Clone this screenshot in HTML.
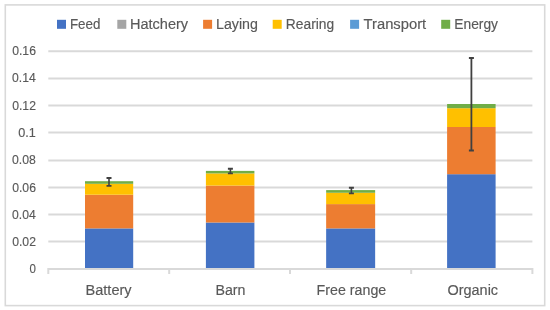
<!DOCTYPE html>
<html>
<head>
<meta charset="utf-8">
<style>
html,body{margin:0;padding:0;background:#fff;}
body{width:550px;height:310px;overflow:hidden;}
svg{display:block;}
text{font-family:"Liberation Sans",Arial,sans-serif;fill:#595959;stroke:#595959;stroke-width:0.15px;}

</style>
</head>
<body>
<svg width="550" height="310" viewBox="0 0 550 310">
<rect x="0" y="0" width="550" height="310" fill="#fff"/>
<rect x="5.3" y="4.9" width="539.4" height="300.7" fill="none" stroke="#d9d9d9" stroke-width="1.6"/>
<g stroke="#d9d9d9" stroke-width="2"><line x1="48.3" y1="241.40" x2="532.4" y2="241.40"/><line x1="48.3" y1="214.40" x2="532.4" y2="214.40"/><line x1="48.3" y1="187.40" x2="532.4" y2="187.40"/><line x1="48.3" y1="160.50" x2="532.4" y2="160.50"/><line x1="48.3" y1="132.40" x2="532.4" y2="132.40"/><line x1="48.3" y1="105.40" x2="532.4" y2="105.40"/><line x1="48.3" y1="78.40" x2="532.4" y2="78.40"/><line x1="48.3" y1="51.30" x2="532.4" y2="51.30"/></g>
<g>
<rect x="85.0" y="228.4" width="48.2" height="40.4" fill="#4472c4"/>
<rect x="85.0" y="194.7" width="48.2" height="33.7" fill="#ed7d31"/>
<rect x="85.0" y="183.8" width="48.2" height="10.9" fill="#ffc000"/>
<rect x="85.0" y="181.2" width="48.2" height="2.6" fill="#70ad47"/>
<rect x="205.9" y="222.5" width="48.5" height="46.3" fill="#4472c4"/>
<rect x="205.9" y="185.55" width="48.5" height="36.95" fill="#ed7d31"/>
<rect x="205.9" y="173.4" width="48.5" height="12.15" fill="#ffc000"/>
<rect x="205.9" y="170.9" width="48.5" height="2.5" fill="#70ad47"/>
<rect x="326.15" y="228.4" width="49.0" height="40.4" fill="#4472c4"/>
<rect x="326.15" y="204.1" width="49.0" height="24.3" fill="#ed7d31"/>
<rect x="326.15" y="192.75" width="49.0" height="11.35" fill="#ffc000"/>
<rect x="326.15" y="190.1" width="49.0" height="2.65" fill="#70ad47"/>
<rect x="447.1" y="174.2" width="48.5" height="94.6" fill="#4472c4"/>
<rect x="447.1" y="127.0" width="48.5" height="47.2" fill="#ed7d31"/>
<rect x="447.1" y="108.2" width="48.5" height="18.8" fill="#ffc000"/>
<rect x="447.1" y="104.0" width="48.5" height="4.2" fill="#70ad47"/>
</g>
<g stroke="#d9d9d9" stroke-width="2">
<line x1="48.3" y1="268.9" x2="532.4" y2="268.9"/>
<line x1="48.3" y1="268" x2="48.3" y2="274"/>
<line x1="169.2" y1="268" x2="169.2" y2="274"/>
<line x1="290.0" y1="268" x2="290.0" y2="274"/>
<line x1="411.2" y1="268" x2="411.2" y2="274"/>
<line x1="532.4" y1="268" x2="532.4" y2="274"/>
</g>
<g stroke="#404040" fill="none">
<path d="M109.0 178.0V185.9" stroke-width="1.6"/><path d="M106.50 178.0H111.50M106.50 185.9H111.50" stroke-width="1.9"/>
<path d="M230.4 168.7V173.4" stroke-width="1.6"/><path d="M227.90 168.7H232.90M227.90 173.4H232.90" stroke-width="1.9"/>
<path d="M351.4 187.8V193.4" stroke-width="1.6"/><path d="M348.90 187.8H353.90M348.90 193.4H353.90" stroke-width="1.9"/>
<path d="M471.4 58.0V150.5" stroke-width="1.8"/><path d="M468.90 58.0H473.90M468.90 150.5H473.90" stroke-width="1.9"/>
</g>
<rect x="57" y="19.8" width="9" height="9" fill="#4472c4"/>
<rect x="117.3" y="19.8" width="9" height="9" fill="#a5a5a5"/>
<rect x="203.1" y="19.8" width="9" height="9" fill="#ed7d31"/>
<rect x="272.7" y="19.8" width="9" height="9" fill="#ffc000"/>
<rect x="350.1" y="19.8" width="9" height="9" fill="#5b9bd5"/>
<rect x="441.2" y="19.8" width="9" height="9" fill="#70ad47"/>
<text id="t_feed" x="69.88" y="28.50" font-size="14.0" textLength="30.52" lengthAdjust="spacingAndGlyphs">Feed</text>
<text id="t_hat" x="129.93" y="28.50" font-size="14.0" textLength="58.18" lengthAdjust="spacingAndGlyphs">Hatchery</text>
<text id="t_lay" x="215.99" y="28.50" font-size="14.0" textLength="42.00" lengthAdjust="spacingAndGlyphs">Laying</text>
<text id="t_rea" x="285.87" y="28.50" font-size="14.0" textLength="48.30" lengthAdjust="spacingAndGlyphs">Rearing</text>
<text id="t_tra" x="363.55" y="28.50" font-size="14.0" textLength="62.66" lengthAdjust="spacingAndGlyphs">Transport</text>
<text id="t_ene" x="454.25" y="28.50" font-size="14.0" textLength="43.72" lengthAdjust="spacingAndGlyphs">Energy</text>
<text id="t_bat" x="85.54" y="294.60" font-size="14.0" textLength="46.11" lengthAdjust="spacingAndGlyphs">Battery</text>
<text id="t_barn" x="215.43" y="294.60" font-size="14.0" textLength="30.03" lengthAdjust="spacingAndGlyphs">Barn</text>
<text id="t_free" x="316.60" y="294.60" font-size="14.0" textLength="69.64" lengthAdjust="spacingAndGlyphs">Free range</text>
<text id="t_org" x="447.49" y="294.60" font-size="14.0" textLength="50.59" lengthAdjust="spacingAndGlyphs">Organic</text>
<text id="y0" x="12.20" y="55.00" font-size="13.5" textLength="23.72" lengthAdjust="spacingAndGlyphs">0.16</text>
<text id="y1" x="12.01" y="82.00" font-size="13.5" textLength="23.69" lengthAdjust="spacingAndGlyphs">0.14</text>
<text id="y2" x="12.21" y="110.00" font-size="13.5" textLength="23.74" lengthAdjust="spacingAndGlyphs">0.12</text>
<text id="y3" x="18.33" y="137.00" font-size="13.5" textLength="17.56" lengthAdjust="spacingAndGlyphs">0.1</text>
<text id="y4" x="11.99" y="164.00" font-size="13.5" textLength="23.85" lengthAdjust="spacingAndGlyphs">0.08</text>
<text id="y5" x="12.20" y="192.00" font-size="13.5" textLength="23.72" lengthAdjust="spacingAndGlyphs">0.06</text>
<text id="y6" x="12.01" y="219.00" font-size="13.5" textLength="23.69" lengthAdjust="spacingAndGlyphs">0.04</text>
<text id="y7" x="12.21" y="246.00" font-size="13.5" textLength="23.74" lengthAdjust="spacingAndGlyphs">0.02</text>
<text id="y8" x="29.57" y="273.00" font-size="13.5" textLength="6.39" lengthAdjust="spacingAndGlyphs">0</text>
</svg>
</body>
</html>
